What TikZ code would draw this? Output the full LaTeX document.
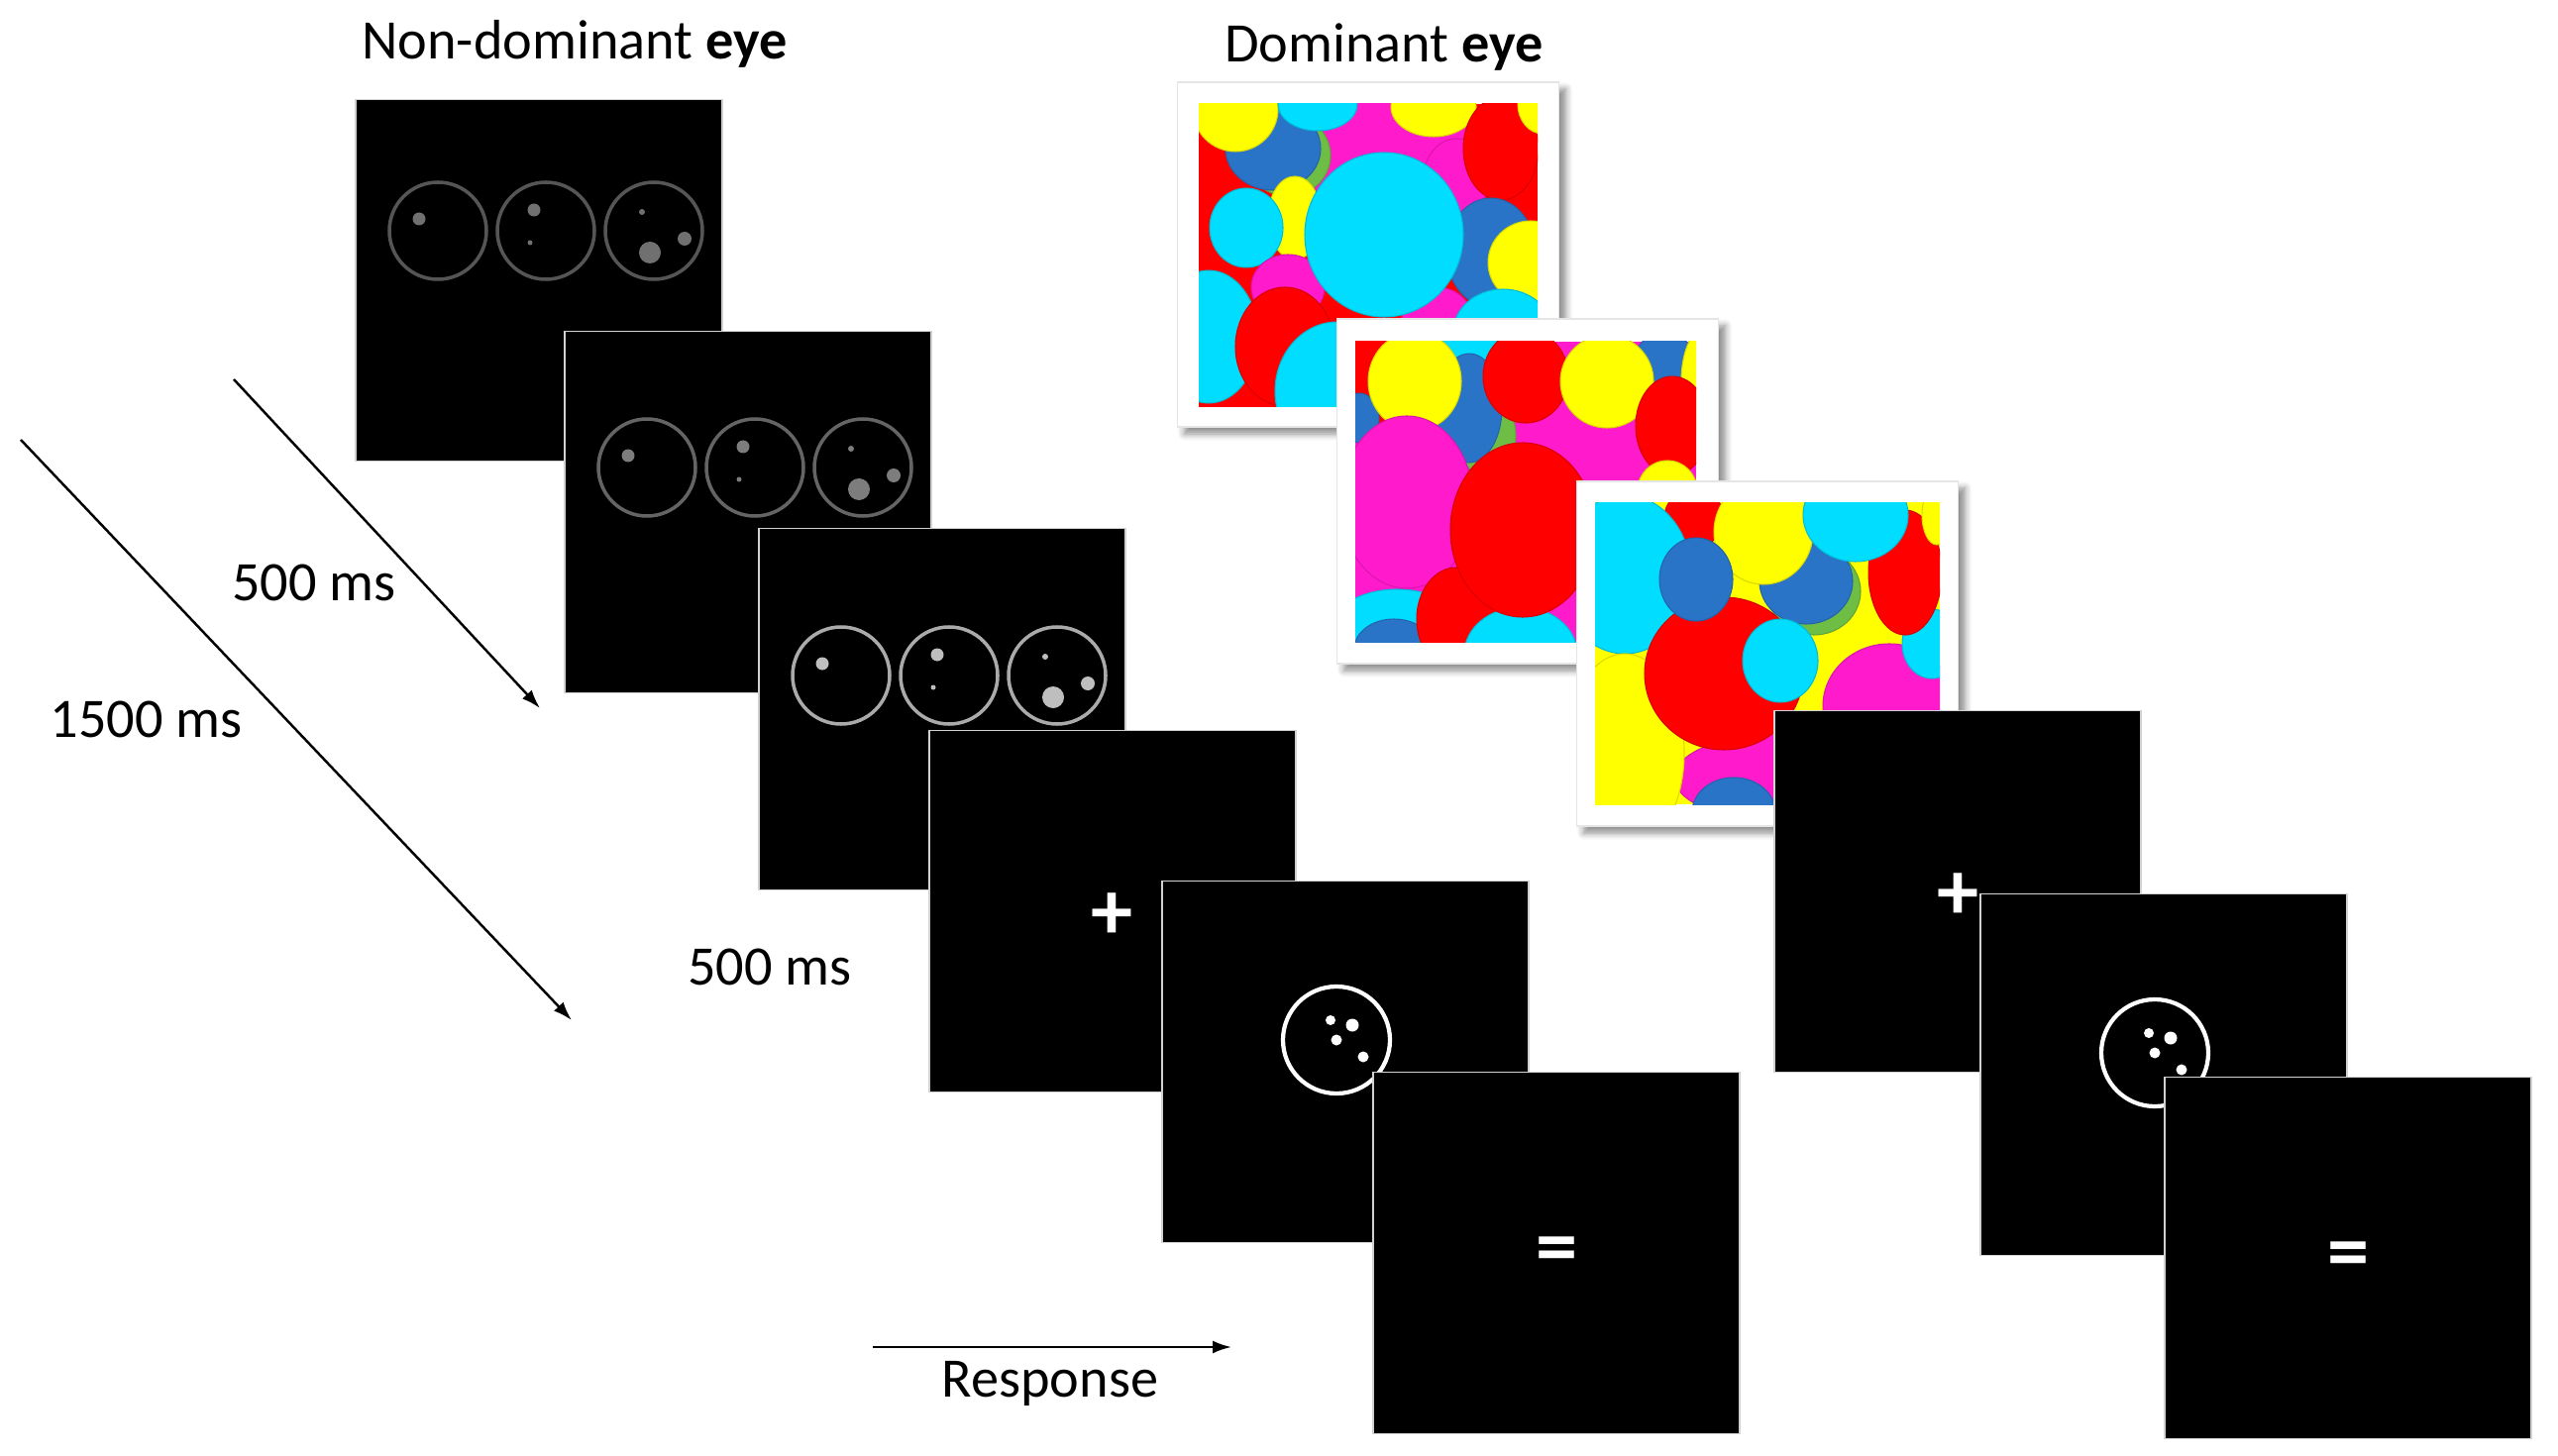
\documentclass[tikz,border=0pt]{standalone}
\usepackage{fontspec}
\setmainfont{Carlito}
\usetikzlibrary{arrows.meta,shadows.blur}

\definecolor{cy}{RGB}{0,221,255}
\definecolor{yl}{RGB}{255,255,0}
\definecolor{mg}{RGB}{255,26,204}
\definecolor{rd}{RGB}{255,0,0}
\definecolor{bl}{RGB}{42,116,200}
\definecolor{gn}{RGB}{110,190,70}
\definecolor{ringA}{RGB}{85,85,85}
\definecolor{spotA}{RGB}{112,112,112}
\definecolor{ringB}{RGB}{100,100,100}
\definecolor{spotB}{RGB}{125,125,125}
\definecolor{ringC}{RGB}{170,170,170}
\definecolor{spotC}{RGB}{190,190,190}

\tikzset{
  screen/.style={fill=black, draw=black!18, line width=0.4pt, inner sep=0pt,
    minimum width=3.7cm, minimum height=3.65cm},
  photo/.style={fill=white, draw=black!10, line width=0.4pt, inner sep=0pt,
    minimum width=3.85cm, minimum height=3.48cm,
    blur shadow={shadow xshift=0.07cm, shadow yshift=-0.07cm,
      shadow blur steps=6, shadow opacity=45}},
  disc/.style={fill=#1, draw=#1!85!black, line width=0.3pt},
  lbl/.style={font=\fontsize{16}{19}\selectfont, inner sep=0pt},
  sym/.style={text=white, font=\fontsize{24}{24}\selectfont\bfseries, inner sep=0pt},
  timeline/.style={-{Latex[length=0.19cm,width=0.13cm]}, line width=0.7pt},
}

% three test arrays on one screen: node, height, ring colour, spot colour
\newcommand{\arrays}[4]{%
  \begin{scope}[shift={(#1.center)}]
    \draw[#3, line width=1pt] (-102,#2) circle (49) (7,#2) circle (49) (116,#2) circle (49);
    \fill[#4] (-121,#2-12) circle (6.5)
      (-5,#2-21) circle (6.5) (-9,#2+12) circle (2.5)
      (104,#2-19) circle (3) (112,#2+22) circle (11) (147,#2+8) circle (7);
  \end{scope}}

% the single probe array
\newcommand{\probe}[1]{%
  \begin{scope}[shift={(#1.center)}]
    \draw[white, line width=1.2pt] (-9,-22) circle (54);
    \fill[white] (-15,-42) circle (5) (7,-37) circle (6.5) (-9,-22) circle (5.5) (18,-5) circle (5.5);
  \end{scope}}

\begin{document}
\begin{tikzpicture}[x=0.01cm, y=-0.01cm]
\useasboundingbox (0,0) rectangle (2582,1470);

% titles
\node[lbl, anchor=base] (tnd) at (580,60) {Non-dominant \textbf{eye}};
\node[lbl, anchor=base] (td) at (1397,63) {Dominant \textbf{eye}};

% non-dominant eye sequence
\node[screen] (p1) at (544,283) {};
\arrays{p1}{-50}{ringA}{spotA}
\node[screen] (p2) at (755,517) {};
\arrays{p2}{-45}{ringB}{spotB}
\node[screen] (p3) at (951,716) {};
\arrays{p3}{-34}{ringC}{spotC}
\node[screen] (p4) at (1123,920) {};
\node[sym, yshift=-0.05cm] (fix1) at (p4.center) {+};
\node[screen] (p5) at (1358,1072) {};
\probe{p5}
\node[screen] (p6) at (1571,1265) {};
\node[sym, yshift=-0.03cm] (eq1) at (p6.center) {=};

% dominant eye masks
\node[photo] (f1) at (1381,257) {};
\begin{scope}
  \clip (1210,105) rectangle (1552,411);
  \fill[rd] (1210,105) rectangle (1552,411);
  \filldraw[disc=mg] (1400,150) ellipse (90 and 70);
  \filldraw[disc=mg] (1450,320) ellipse (35 and 30);
  \filldraw[disc=gn] (1300,157) ellipse (43 and 41);
  \filldraw[disc=bl] (1285,150) ellipse (48 and 42);
  \filldraw[disc=yl] (1247,110) ellipse (43 and 43);
  \filldraw[disc=cy] (1330,105) ellipse (40 and 27);
  \filldraw[disc=yl] (1447,108) ellipse (43 and 30);
  \filldraw[disc=mg] (1470,180) ellipse (33 and 40);
  \filldraw[disc=rd] (1515,150) ellipse (38 and 52);
  \filldraw[disc=yl] (1557,105) ellipse (25 and 30);
  \filldraw[disc=bl] (1505,255) ellipse (45 and 55);
  \filldraw[disc=yl] (1545,265) ellipse (43 and 42);
  \filldraw[disc=cy] (1517,335) ellipse (50 and 43);
  \filldraw[disc=yl] (1307,220) ellipse (27 and 42);
  \filldraw[disc=cy] (1258,230) ellipse (37 and 40);
  \filldraw[disc=mg] (1300,290) ellipse (37 and 33);
  \filldraw[disc=cy] (1397,237) ellipse (80 and 83);
  \filldraw[disc=cy] (1220,340) ellipse (50 and 67);
  \filldraw[disc=rd] (1297,350) ellipse (50 and 60);
  \filldraw[disc=cy] (1350,395) ellipse (63 and 70);
\end{scope}

\node[photo] (f2) at (1542,496) {};
\begin{scope}
  \clip (1368,345) rectangle (1712,648);
  \fill[mg] (1368,345) rectangle (1712,648);
  \filldraw[disc=rd] (1385,380) ellipse (30 and 50);
  \filldraw[disc=cy] (1490,360) ellipse (40 and 30);
  \filldraw[disc=bl] (1372,422) ellipse (20 and 25);
  \filldraw[disc=gn] (1500,440) ellipse (30 and 40);
  \filldraw[disc=bl] (1483,412) ellipse (33 and 55);
  \filldraw[disc=yl] (1428,385) ellipse (47 and 50);
  \filldraw[disc=rd] (1540,380) ellipse (43 and 47);
  \filldraw[disc=bl] (1680,365) ellipse (30 and 30);
  \filldraw[disc=yl] (1622,385) ellipse (47 and 47);
  \filldraw[disc=yl] (1722,385) ellipse (25 and 55);
  \filldraw[disc=rd] (1688,430) ellipse (37 and 50);
  \filldraw[disc=yl] (1683,495) ellipse (30 and 30);
  \filldraw[disc=cy] (1410,640) ellipse (70 and 45);
  \filldraw[disc=bl] (1407,655) ellipse (40 and 30);
  \filldraw[disc=mg] (1420,507) ellipse (67 and 87);
  \filldraw[disc=rd] (1470,625) ellipse (40 and 52);
  \filldraw[disc=cy] (1535,660) ellipse (57 and 47);
  \filldraw[disc=rd] (1537,535) ellipse (73 and 88);
\end{scope}

\node[photo] (f3) at (1784,660) {};
\begin{scope}
  \clip (1610,507) rectangle (1958,812);
  \fill[yl] (1610,507) rectangle (1958,812);
  \filldraw[disc=mg] (1907,713) ellipse (67 and 63);
  \filldraw[disc=mg] (1790,785) ellipse (100 and 43);
  \filldraw[disc=cy] (1950,650) ellipse (30 and 35);
  \filldraw[disc=rd] (1710,523) ellipse (30 and 30);
  \filldraw[disc=rd] (1923,578) ellipse (37 and 63);
  \filldraw[disc=yl] (1955,520) ellipse (15 and 30);
  \filldraw[disc=gn] (1831,597) ellipse (47 and 44);
  \filldraw[disc=bl] (1823,587) ellipse (47 and 43);
  \filldraw[disc=yl] (1780,537) ellipse (50 and 53);
  \filldraw[disc=cy] (1873,520) ellipse (53 and 47);
  \filldraw[disc=cy] (1640,580) ellipse (67 and 80);
  \filldraw[disc=yl] (1640,760) ellipse (60 and 100);
  \filldraw[disc=rd] (1740,680) ellipse (80 and 77);
  \filldraw[disc=bl] (1712,585) ellipse (37 and 42);
  \filldraw[disc=cy] (1797,667) ellipse (38 and 42);
  \filldraw[disc=bl] (1750,820) ellipse (42 and 35);
\end{scope}

% dominant eye sequence
\node[screen] (p7) at (1976,900) {};
\node[sym, yshift=-0.05cm] (fix2) at (p7.center) {+};
\node[screen] (p8) at (2184,1085) {};
\probe{p8}
\node[screen] (p9) at (2370,1270) {};
\node[sym, yshift=-0.03cm] (eq2) at (p9.center) {=};

% timing
\coordinate (a1) at (236,383);
\coordinate (b1) at (545,715);
\coordinate (a2) at (21,444);
\coordinate (b2) at (577,1030);
\coordinate (a3) at (881,1360);
\coordinate (b3) at (1243,1360);
\draw[timeline] (a1) -- (b1);
\draw[timeline] (a2) -- (b2);
\draw[timeline] (a3) -- (b3);
\node[lbl, anchor=base east] (t500a) at (400,606) {500 ms};
\node[lbl, anchor=base east] (t1500) at (245,744) {1500 ms};
\node[lbl, anchor=base east] (t500b) at (860,994) {500 ms};
\node[lbl, anchor=base] (resp) at (1060,1410) {Response};
\end{tikzpicture}
\end{document}
